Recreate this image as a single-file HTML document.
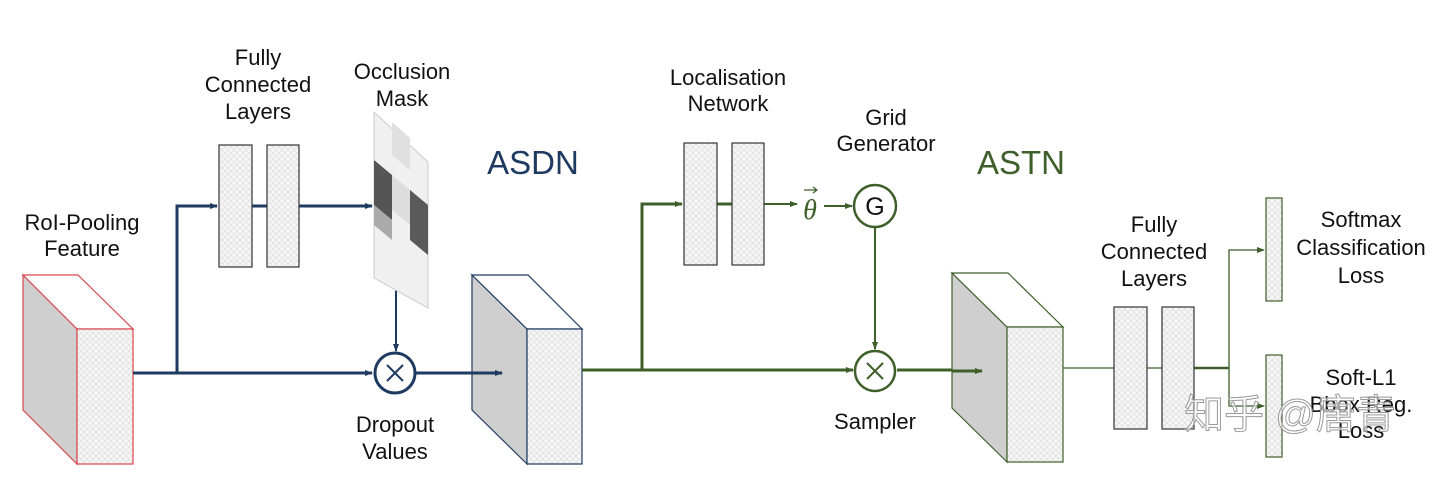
<!DOCTYPE html>
<html><head><meta charset="utf-8"><style>
body{margin:0;background:#fff;width:1440px;height:475px;overflow:hidden}
svg text{font-family:"Liberation Sans",Arial,sans-serif;fill:#111}
</style></head><body>
<svg width="1440" height="475" xmlns="http://www.w3.org/2000/svg">
<defs>
<pattern id="h" width="6" height="6" patternUnits="userSpaceOnUse">
<rect width="6" height="6" fill="#f6f6f6"/><path d="M0 0L6 6M6 0L0 6" stroke="#ddd" stroke-width="0.7"/></pattern>
<marker id="an" markerWidth="8" markerHeight="8" refX="7" refY="4" orient="auto" markerUnits="userSpaceOnUse"><path d="M0 1L8 4L0 7z" fill="#1f3a60"/></marker>
<marker id="ag" markerWidth="8" markerHeight="8" refX="7" refY="4" orient="auto" markerUnits="userSpaceOnUse"><path d="M0 1L8 4L0 7z" fill="#3e5f2a"/></marker>
</defs>
<polygon points="23,275 23,410 77,464 77,329" fill="#cfcfcf" stroke="#d9474f" stroke-width="1.2"/>
<polygon points="23,275 78,275 133,329 77,329" fill="#fff" stroke="#d9474f" stroke-width="1.2"/>
<rect x="77" y="329" width="56" height="135" fill="url(#h)" stroke="#d9474f" stroke-width="1.2"/>
<text x="82" y="230" font-size="22" text-anchor="middle">RoI-Pooling</text>
<text x="82" y="256" font-size="22" text-anchor="middle">Feature</text>
<g stroke="#1f3a60" stroke-width="3" fill="none">
<line x1="133" y1="373" x2="372" y2="373" marker-end="url(#an)"/>
<polyline points="177,373 177,206 217,206" marker-end="url(#an)"/>
<line x1="252" y1="206" x2="267" y2="206"/>
<line x1="299" y1="206" x2="372" y2="206" marker-end="url(#an)"/>
<line x1="396" y1="278" x2="396" y2="351" stroke-width="2" marker-end="url(#an)"/>
<line x1="416" y1="373" x2="502" y2="373" marker-end="url(#an)"/>
</g>
<rect x="219" y="145" width="33" height="122" fill="url(#h)" stroke="#333" stroke-width="1.2"/>
<rect x="267" y="145" width="32" height="122" fill="url(#h)" stroke="#333" stroke-width="1.2"/>
<text x="258" y="65" font-size="22" text-anchor="middle">Fully</text>
<text x="258" y="92" font-size="22" text-anchor="middle">Connected</text>
<text x="258" y="119" font-size="22" text-anchor="middle">Layers</text>
<polygon points="374,112 428,162 428,308 374,278" fill="#f0f0f0" stroke="#ccc"/>
<polygon points="374,160 392,175 392,220 374,205" fill="#555"/>
<polygon points="392,175 410,190 410,225 392,210" fill="#ddd"/>
<polygon points="410,190 428,205 428,255 410,240" fill="#5a5a5a"/>
<polygon points="374,205 392,220 392,240 374,225" fill="#aaa"/>
<polygon points="392,122 410,138 410,170 392,155" fill="#e0e0e0"/>
<text x="402" y="79" font-size="22" text-anchor="middle">Occlusion</text>
<text x="402" y="106" font-size="22" text-anchor="middle">Mask</text>
<circle cx="395" cy="373" r="20" fill="#fff" stroke="#1f3a60" stroke-width="3"/>
<path d="M387 365L403 381M403 365L387 381" stroke="#1f3a60" stroke-width="2"/>
<text x="395" y="432" font-size="22" text-anchor="middle">Dropout</text>
<text x="395" y="459" font-size="22" text-anchor="middle">Values</text>
<text x="533" y="174" font-size="33" text-anchor="middle" style="fill:#1f3a60">ASDN</text>
<polygon points="472,275 472,410 527,464 527,329" fill="#cfcfcf" stroke="#1f3a60" stroke-width="1.2"/>
<polygon points="472,275 528,275 582,329 527,329" fill="#fff" stroke="#1f3a60" stroke-width="1.2"/>
<rect x="527" y="329" width="55" height="135" fill="url(#h)" stroke="#1f3a60" stroke-width="1.2"/>
<line x1="472" y1="373" x2="502" y2="373" stroke="#1f3a60" stroke-width="3" marker-end="url(#an)"/>
<g stroke="#3e5f2a" stroke-width="3" fill="none">
<line x1="582" y1="370" x2="853" y2="370" marker-end="url(#ag)"/>
<polyline points="642,370 642,204 682,204" marker-end="url(#ag)"/>
<line x1="717" y1="204" x2="732" y2="204"/>
<line x1="764" y1="204" x2="797" y2="204" stroke-width="2" marker-end="url(#ag)"/>
<line x1="824" y1="206" x2="852" y2="206" stroke-width="2" marker-end="url(#ag)"/>
<line x1="875" y1="228" x2="875" y2="349" stroke-width="2" marker-end="url(#ag)"/>
<line x1="897" y1="370" x2="982" y2="370" marker-end="url(#ag)"/>
</g>
<rect x="684" y="143" width="33" height="122" fill="url(#h)" stroke="#333" stroke-width="1.2"/>
<rect x="732" y="143" width="32" height="122" fill="url(#h)" stroke="#333" stroke-width="1.2"/>
<text x="728" y="85" font-size="22" text-anchor="middle">Localisation</text>
<text x="728" y="111" font-size="22" text-anchor="middle">Network</text>
<text x="810" y="219" font-size="28" font-style="italic" text-anchor="middle" style="fill:#3e5f2a;font-family:'Liberation Serif',serif">θ</text>
<path d="M804 190H817M813 187L817 190L813 193" stroke="#3e5f2a" stroke-width="1.2" fill="none"/>
<circle cx="875" cy="206" r="21" fill="#fff" stroke="#3e5f2a" stroke-width="2.5"/>
<text x="875" y="215" font-size="25" text-anchor="middle">G</text>
<text x="886" y="125" font-size="22" text-anchor="middle">Grid</text>
<text x="886" y="151" font-size="22" text-anchor="middle">Generator</text>
<circle cx="875" cy="371" r="20" fill="#fff" stroke="#3e5f2a" stroke-width="2.5"/>
<path d="M867 363L883 379M883 363L867 379" stroke="#3e5f2a" stroke-width="2"/>
<text x="875" y="429" font-size="22" text-anchor="middle">Sampler</text>
<text x="1021" y="174" font-size="33" text-anchor="middle" style="fill:#3e5f2a">ASTN</text>
<polygon points="952,273 952,408 1007,462 1007,327" fill="#cfcfcf" stroke="#3e5f2a" stroke-width="1.2"/>
<polygon points="952,273 1008,273 1063,327 1007,327" fill="#fff" stroke="#3e5f2a" stroke-width="1.2"/>
<rect x="1007" y="327" width="56" height="135" fill="url(#h)" stroke="#3e5f2a" stroke-width="1.2"/>
<line x1="952" y1="371" x2="982" y2="371" stroke="#3e5f2a" stroke-width="3" marker-end="url(#ag)"/>
<g stroke="#3e5f2a" stroke-width="1.3" fill="none">
<line x1="1063" y1="368" x2="1229" y2="368"/>
<polyline points="1229,368 1229,250 1264,250" marker-end="url(#ag)"/>
<polyline points="1229,368 1229,406 1264,406" marker-end="url(#ag)"/>
</g>
<line x1="1194" y1="368" x2="1229" y2="368" stroke="#3e5f2a" stroke-width="2.5"/>
<rect x="1114" y="307" width="33" height="122" fill="url(#h)" stroke="#333" stroke-width="1.2"/>
<rect x="1162" y="307" width="32" height="122" fill="url(#h)" stroke="#333" stroke-width="1.2"/>
<text x="1154" y="232" font-size="22" text-anchor="middle">Fully</text>
<text x="1154" y="259" font-size="22" text-anchor="middle">Connected</text>
<text x="1154" y="286" font-size="22" text-anchor="middle">Layers</text>
<rect x="1266" y="198" width="16" height="103" fill="url(#h)" stroke="#3e5f2a" stroke-width="1.2"/>
<rect x="1266" y="355" width="16" height="102" fill="url(#h)" stroke="#3e5f2a" stroke-width="1.2"/>
<text x="1361" y="227" font-size="22" text-anchor="middle">Softmax</text>
<text x="1361" y="255" font-size="22" text-anchor="middle">Classification</text>
<text x="1361" y="283" font-size="22" text-anchor="middle">Loss</text>
<text x="1361" y="385" font-size="22" text-anchor="middle">Soft-L1</text>
<text x="1361" y="412" font-size="22" text-anchor="middle">Bbox Reg.</text>
<text x="1361" y="438" font-size="22" text-anchor="middle">Loss</text>
<text x="1290" y="428" font-size="40" text-anchor="middle" style="fill:#fff;fill-opacity:0.6;stroke:#999;stroke-width:1;font-family:'Liberation Sans','Noto Sans CJK SC',sans-serif">知乎 @唐青</text>
</svg>
</body></html>
